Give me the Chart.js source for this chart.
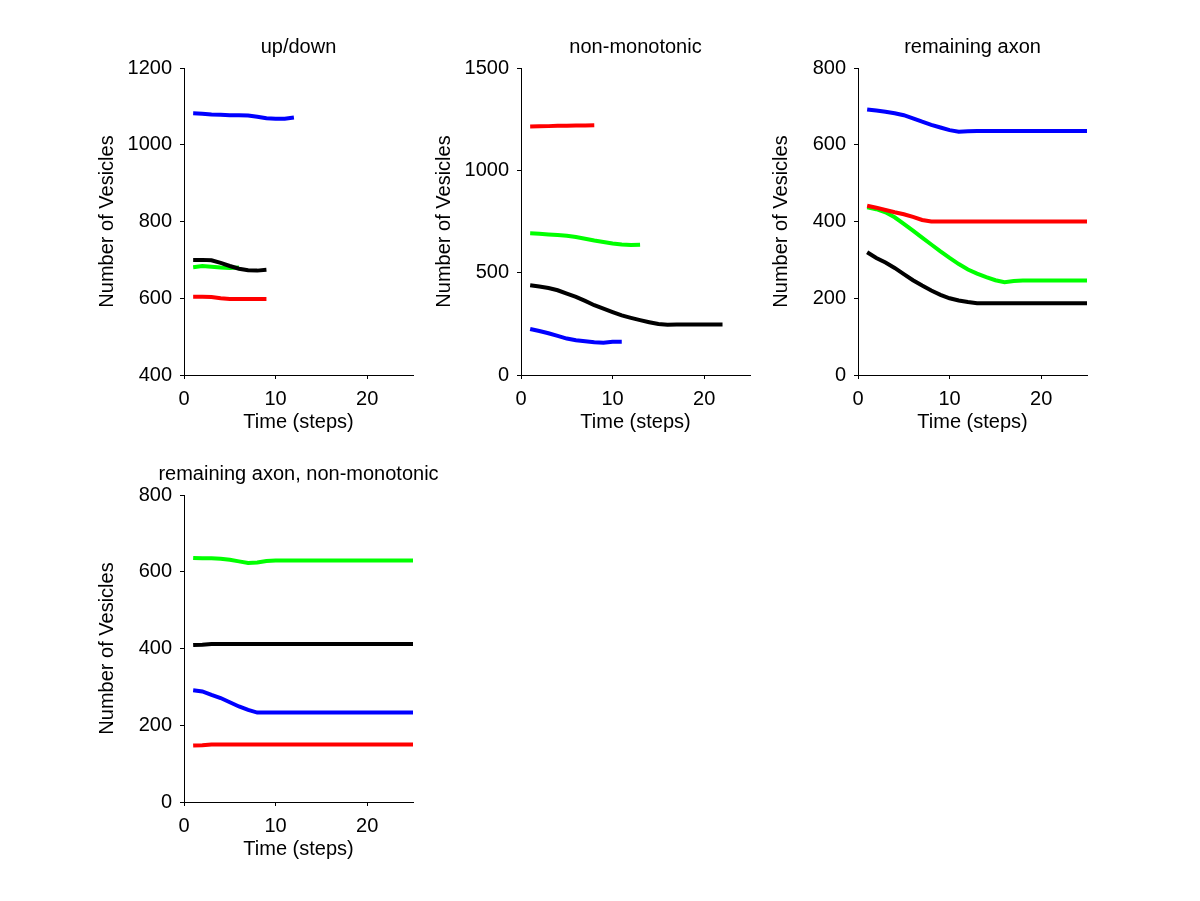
<!DOCTYPE html>
<html>
<head>
<meta charset="utf-8">
<script src="https://cdn.jsdelivr.net/npm/chart.js@4"></script>
<style>
  body { margin: 0; background: #fff; }
  canvas { position: absolute; }
</style>
</head>
<body>
<canvas id="chart1" width="409" height="437" style="left:94px;top:8px"></canvas>
<canvas id="chart2" width="409" height="437" style="left:431px;top:8px"></canvas>
<canvas id="chart3" width="409" height="437" style="left:768px;top:8px"></canvas>
<canvas id="chart4" width="409" height="437" style="left:94px;top:435px"></canvas>
<script>
// x ticks shared by all panels
const xTicks = [0, 10, 20]

// up/down
const upDownBlue  = [1082, 1081, 1079, 1078, 1077, 1077, 1076, 1073, 1069, 1068, 1068, 1071]
const upDownBlack = [700, 700, 699, 692, 684, 677, 673, 672, 674]
const upDownGreen = [681, 684, 682, 680, 679, 680]
const upDownRed   = [604, 604, 603, 600, 598, 598, 598, 598, 598]
const upDownTicks = [400, 600, 800, 1000, 1200]

// non-monotonic
const nonMonoRed   = [1214, 1215, 1216, 1218, 1218, 1219, 1219, 1220]
const nonMonoGreen = [692, 690, 687, 684, 680, 674, 666, 657, 650, 643, 638, 635, 637]
const nonMonoBlack = [438, 432, 425, 414, 398, 382, 362, 341, 324, 307, 291, 279, 268, 258, 249, 246, 247, 247, 247, 247, 247, 247]
const nonMonoBlue  = [225, 215, 204, 191, 178, 170, 165, 160, 158, 162, 162]
const nonMonoTicks = [0, 500, 1000, 1500]

// remaining axon
const remBlue  = [692, 689, 686, 682, 677, 669, 660, 652, 645, 638, 634, 635, 636, 636, 636, 636, 636, 636, 636, 636, 636, 636, 636, 636, 636]
const remRed   = [441, 436, 430, 424, 419, 412, 404, 400, 400, 400, 400, 400, 400, 400, 400, 400, 400, 400, 400, 400, 400, 400, 400, 400, 400]
const remGreen = [437, 432, 424, 411, 394, 376, 358, 340, 322, 305, 289, 275, 264, 255, 247, 242, 245, 246, 246, 246, 246, 246, 246, 246, 246]
const remBlack = [320, 305, 293, 279, 263, 247, 233, 220, 209, 200, 194, 190, 187, 187, 187, 187, 187, 187, 187, 187, 187, 187, 187, 187, 187]
const remTicks = [0, 200, 400, 600, 800]

// remaining axon, non-monotonic
const remNmGreen = [636, 635, 635, 634, 631, 627, 623, 624, 628, 629, 629, 629, 629, 629, 629, 629, 629, 629, 629, 629, 629, 629, 629, 629, 629]
const remNmBlack = [409, 410, 412, 412, 412, 412, 412, 412, 412, 412, 412, 412, 412, 412, 412, 412, 412, 412, 412, 412, 412, 412, 412, 412, 412]
const remNmBlue  = [291, 288, 279, 271, 260, 249, 240, 233, 233, 233, 233, 233, 233, 233, 233, 233, 233, 233, 233, 233, 233, 233, 233, 233, 233]
const remNmRed   = [147, 148, 150, 150, 150, 150, 150, 150, 150, 150, 150, 150, 150, 150, 150, 150, 150, 150, 150, 150, 150, 150, 150, 150, 150]
const remNmTicks = [0, 200, 400, 600, 800]

const font = { family: "'Liberation Sans', Arial, sans-serif", size: 20 }

const serie = (values, color) => ({
    data: values.map((v, i) => ({ x: i + 1, y: v })),
    borderColor: color,
    borderWidth: 4,
    pointRadius: 0,
    tension: 0,
    fill: false
})

const makeChart = (id, title, yTicks, datasets) => {
    const config = {
        type: 'line',
        data: { datasets },
        options: {
            responsive: false,
            animation: false,
            layout: { padding: 0 },
            plugins: {
                legend: { display: false },
                tooltip: { enabled: false },
                title: {
                    display: true,
                    text: title,
                    color: '#000',
                    font: { ...font, weight: 'normal', lineHeight: 1.2 },
                    padding: { top: 27, bottom: 9 }
                }
            },
            scales: {
                x: {
                    type: 'linear',
                    min: 0,
                    max: 25,
                    afterBuildTicks: scale => { scale.ticks = xTicks.map(v => ({ value: v })) },
                    afterFit: scale => { scale.height = 70 },
                    grid: { drawOnChartArea: false, drawTicks: true, tickLength: 4, color: '#000' },
                    border: { display: true, color: '#000', width: 1 },
                    ticks: { color: '#000', font, padding: 8, maxRotation: 0, callback: v => String(v) },
                    title: {
                        display: true,
                        text: 'Time (steps)',
                        color: '#000',
                        font: { ...font, lineHeight: 1.2 },
                        padding: { top: 0, bottom: 11 }
                    }
                },
                y: {
                    min: yTicks[0],
                    max: yTicks[yTicks.length - 1],
                    afterBuildTicks: scale => { scale.ticks = yTicks.map(v => ({ value: v })) },
                    afterFit: scale => { scale.width = 90 },
                    grid: { drawOnChartArea: false, drawTicks: true, tickLength: 4, color: '#000' },
                    border: { display: true, color: '#000', width: 1 },
                    ticks: { color: '#000', font, padding: 8, callback: v => String(v) },
                    title: {
                        display: true,
                        text: 'Number of Vesicles',
                        color: '#000',
                        font: { ...font, lineHeight: 1.2 },
                        padding: { top: 1, bottom: 0 }
                    }
                },
                // empty right axis, same width as the left one, so the title centres over the plot
                yRight: {
                    position: 'right',
                    afterFit: scale => { scale.width = 90 },
                    grid: { display: false },
                    border: { display: false },
                    ticks: { display: false }
                }
            }
        }
    }
    return new Chart(document.querySelector(id), config)
}

makeChart('#chart1', 'up/down', upDownTicks, [
    serie(upDownBlack, '#000000'),
    serie(upDownRed, '#ff0000'),
    serie(upDownGreen, '#00ff00'),
    serie(upDownBlue, '#0000ff')
])
makeChart('#chart2', 'non-monotonic', nonMonoTicks, [
    serie(nonMonoBlack, '#000000'),
    serie(nonMonoRed, '#ff0000'),
    serie(nonMonoGreen, '#00ff00'),
    serie(nonMonoBlue, '#0000ff')
])
makeChart('#chart3', 'remaining axon', remTicks, [
    serie(remBlack, '#000000'),
    serie(remRed, '#ff0000'),
    serie(remGreen, '#00ff00'),
    serie(remBlue, '#0000ff')
])
makeChart('#chart4', 'remaining axon, non-monotonic', remNmTicks, [
    serie(remNmBlack, '#000000'),
    serie(remNmRed, '#ff0000'),
    serie(remNmGreen, '#00ff00'),
    serie(remNmBlue, '#0000ff')
])
</script>
</body>
</html>
